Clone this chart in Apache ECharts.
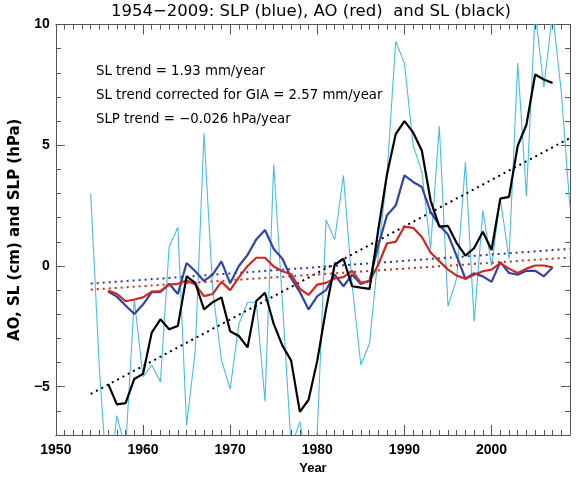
<!DOCTYPE html>
<html><head><meta charset="utf-8">
<script src="https://cdn.jsdelivr.net/npm/echarts@6/dist/echarts.min.js"></script>
<style>html,body{margin:0;padding:0;background:#fff}#c{width:580px;height:480px}</style>
</head><body><div id="c"></div>
<script>
// Annual sea level (thin light-blue line)
const annualYears = [1954,1955,1956,1957,1958,1959,1960,1961,1962,1963,1964,1965,1966,1967,1968,1969,1970,1971,1972,1973,1974,1975,1976,1977,1978,1979,1980,1981,1982,1983,1984,1985,1986,1987,1988,1989,1990,1991,1992,1993,1994,1995,1996,1997,1998,1999,2000,2001,2002,2003,2004,2005,2006,2007,2008,2009];
const slAnnual = [3.0,-4.3,-9.5,-6.2,-7.6,-1.4,-4.6,-4.1,-4.8,0.8,1.6,-6.6,-3.5,5.5,-1.0,-3.9,-5.1,-2.4,-1.5,-1.5,-5.6,4.2,-1.5,-7.5,-6.45,-8.5,-6.9,1.9,1.1,3.75,-0.8,-4.1,-3.2,0.5,3.8,9.3,8.4,5.0,3.9,0.7,5.8,-1.66,-0.5,4.3,-2.3,2.3,0.0,2.8,0.3,8.4,2.9,10.5,7.4,10.5,7.2,2.4];

// Smoothed series
const smoothYears = [1956,1957,1958,1959,1960,1961,1962,1963,1964,1965,1966,1967,1968,1969,1970,1971,1972,1973,1974,1975,1976,1977,1978,1979,1980,1981,1982,1983,1984,1985,1986,1987,1988,1989,1990,1991,1992,1993,1994,1995,1996,1997,1998,1999,2000,2001,2002,2003,2004,2005,2006,2007];
const slSmooth = [-4.88,-5.73,-5.68,-4.68,-4.47,-2.76,-2.21,-2.62,-2.48,-0.43,-0.7,-1.8,-1.5,-1.3,-2.7,-2.9,-3.37,-1.45,-1.11,-2.4,-3.3,-3.92,-6.04,-5.54,-3.92,-1.8,0.05,0.3,-0.84,-0.9,-0.95,1.5,3.8,5.46,6.0,5.53,4.77,2.72,1.63,1.66,0.95,0.43,0.74,1.42,0.66,2.79,2.86,4.98,5.85,7.93,7.72,7.58];
const slpSmooth = [-1.06,-1.27,-1.64,-1.99,-1.6,-1.08,-1.08,-0.74,-1.16,0.12,-0.22,-0.62,-0.36,0.19,-0.72,0.0,0.46,1.1,1.49,0.7,0.3,-0.5,-1.08,-1.8,-1.25,-1.0,-0.36,-0.84,-0.36,-0.75,-0.6,0.85,2.1,2.5,3.75,3.48,3.27,2.24,1.69,1.3,0.41,-0.53,-0.3,-0.43,-0.66,0.16,-0.29,-0.36,-0.2,-0.2,-0.43,-0.06];
const aoSmooth = [-1.02,-1.15,-1.46,-1.39,-1.3,-1.06,-1.04,-0.77,-0.74,-0.6,-0.77,-1.25,-1.16,-0.66,-1.0,-0.47,0.0,0.34,0.34,-0.02,-0.22,-0.34,-0.95,-1.2,-0.77,-0.7,-0.52,-0.46,-0.2,-0.7,-0.63,0.05,0.94,1.0,1.63,1.58,1.2,0.56,0.2,-0.15,-0.4,-0.53,-0.36,-0.22,-0.15,0.12,-0.11,-0.29,-0.11,0.02,0.02,-0.06];

// Linear trends (end points)
const trendYears = [1954, 2009];
const slTrend = [-5.3, 5.3];
const slpTrend = [-0.73, 0.71];
const aoTrend = [-0.98, 0.35];

// Axis ticks
const xMajorTicks = [1950,1960,1970,1980,1990,2000];
const yMajorTicks = [-5,0,5,10];

const titleText = '1954\u22122009: SLP (blue), AO (red)  and SL (black)';
const annotations = ['SL trend = 1.93 mm/year', 'SL trend corrected for GIA = 2.57 mm/year', 'SLP trend = \u22120.026 hPa/year'];

const FONT = '"Liberation Sans", Arial, Helvetica, sans-serif';
const WIDE = '"DejaVu Sans", Verdana, sans-serif';
const axisColor = '#555';
const pair = (xs, ys) => xs.map((x, i) => [x, ys[i]]);
const minus = v => String(v).replace('-', '\u2212');

function xAx(pos, major, withLabel) {
  const a = {
    type: 'value', position: pos, min: 1950, max: 2009,
    splitLine: {show: false},
    axisLine: {show: major, onZero: false, lineStyle: {color: axisColor, width: 1}},
    axisTick: {show: true, inside: true, length: major ? 10 : 5, lineStyle: {color: axisColor, width: 1}},
    axisLabel: {show: false}
  };
  if (major) { a.axisTick.customValues = xMajorTicks; } else { a.interval = 1; }
  if (withLabel) {
    a.axisLabel = {show: true, customValues: xMajorTicks, margin: 8, color: '#000', fontSize: 14, fontWeight: 'bold', fontFamily: FONT, formatter: v => String(v)};
    a.name = 'Year'; a.nameLocation = 'middle'; a.nameGap = 27;
    a.nameTextStyle = {color: '#000', fontSize: 13, fontWeight: 'bold', fontFamily: FONT};
  }
  return a;
}
function yAx(pos, major, withLabel) {
  const a = {
    type: 'value', position: pos, min: -7, max: 10,
    splitLine: {show: false},
    axisLine: {show: major, onZero: false, lineStyle: {color: axisColor, width: 1}},
    axisTick: {show: true, inside: true, length: major ? 9 : 5, lineStyle: {color: axisColor, width: 1}},
    axisLabel: {show: false}
  };
  if (major) { a.axisTick.customValues = yMajorTicks; } else { a.interval = 1; }
  if (withLabel) {
    a.axisLabel = {show: true, customValues: yMajorTicks, margin: 6, color: '#000', fontSize: 14, fontWeight: 'bold', fontFamily: FONT, formatter: minus};
    a.name = 'AO, SL (cm) and SLP (hPa)'; a.nameLocation = 'middle'; a.nameGap = 31; a.nameRotate = 90;
    a.nameTextStyle = {color: '#000', fontSize: 15, fontWeight: 'bold', fontFamily: WIDE};
  }
  return a;
}

const chart = echarts.init(document.getElementById('c'), null, {renderer: 'canvas'});
const dotted = (color) => ({color: color, width: 2, type: [2, 4], cap: 'butt'});
chart.setOption({
  animation: false,
  backgroundColor: '#fff',
  grid: {left: 53, right: 10, top: 24.5, bottom: 42, containLabel: false},
  xAxis: [xAx('bottom', true, true), xAx('bottom', false, false), xAx('top', true, false), xAx('top', false, false)],
  yAxis: [yAx('left', true, true), yAx('left', false, false), yAx('right', true, false), yAx('right', false, false)],
  graphic: [
    {type: 'text', x: 311, y: 12, style: {text: titleText, font: '16.5px ' + WIDE, fill: '#000', align: 'center', verticalAlign: 'middle'}},
  ].concat(annotations.map((t, i) => ({
    type: 'text', x: 96, y: 72 + i * 24,
    style: {text: t, font: '13.3px ' + WIDE, fill: '#000', align: 'left', verticalAlign: 'middle'}
  }))),
  series: [
    {name: 'SL annual', type: 'line', data: pair(annualYears, slAnnual), symbol: 'none', clip: true,
     lineStyle: {color: '#45bde8', width: 1.1}, z: 1},
    {name: 'SL trend', type: 'line', data: pair(trendYears, slTrend), symbol: 'none', lineStyle: dotted('#000'), z: 2},
    {name: 'SLP trend', type: 'line', data: pair(trendYears, slpTrend), symbol: 'none', lineStyle: dotted('#2a3aa8'), z: 2},
    {name: 'AO trend', type: 'line', data: pair(trendYears, aoTrend), symbol: 'none', lineStyle: dotted('#d0281e'), z: 2},
    {name: 'SLP', type: 'line', data: pair(smoothYears, slpSmooth), symbol: 'none', lineStyle: {color: '#3444a6', width: 2.2}, z: 3},
    {name: 'AO', type: 'line', data: pair(smoothYears, aoSmooth), symbol: 'none', lineStyle: {color: '#d0281e', width: 2.2}, z: 4},
    {name: 'SL', type: 'line', data: pair(smoothYears, slSmooth), symbol: 'none', lineStyle: {color: '#000', width: 2.2}, z: 5}
  ]
});
</script>
</body></html>
